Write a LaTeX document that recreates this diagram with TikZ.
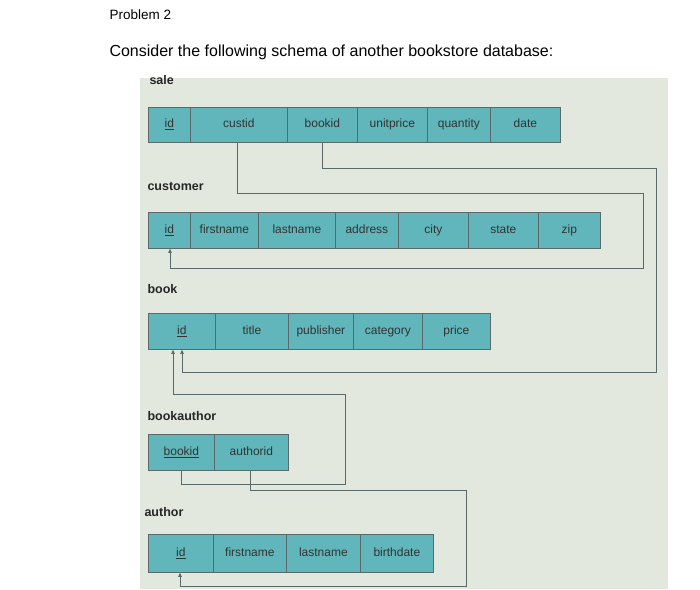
\documentclass[tikz,border=0pt]{standalone}
\usepackage{fontspec}
\setmainfont{Liberation Sans}
\usetikzlibrary{arrows.meta}
\definecolor{cellc}{RGB}{96,182,186}
\definecolor{panel}{RGB}{226,232,222}
\definecolor{linec}{RGB}{90,105,105}
\tikzset{
 cell/.style={draw=linec,fill=cellc,line width=0.8pt,inner sep=0pt,anchor=north west,font=\fontsize{12}{14}\selectfont,text=black!80,text height=9pt,text depth=3pt},
 tlabel/.style={anchor=west,font=\bfseries\fontsize{12.5}{15}\selectfont,text=black!85},
 conn/.style={draw=linec,line width=0.8pt},
 fk/.style={conn,-{Triangle[length=4pt,width=3.5pt]}}
}
\newcommand{\mkcell}[6]{\node[cell,minimum width=#3pt,minimum height=#4pt] (#1) at (#2) {#5#6};}
\begin{document}
\begin{tikzpicture}[x=1pt,y=-1pt]
\useasboundingbox (0,0) rectangle (700,589);
\fill[white] (0,0) rectangle (700,589);
\fill[panel] (140,78) rectangle (668,589);
\node[anchor=west,font=\fontsize{13.5}{16}\selectfont] (t1) at (106,15) {Problem 2};
\node[anchor=west,font=\fontsize{16}{19}\selectfont] (t2) at (106,52) {Consider the following schema of another bookstore database:};
\node[tlabel] (lsale) at (146,80) {sale};
\node[tlabel] (lcust) at (144,186) {customer};
\node[tlabel] (lbook) at (144,289) {book};
\node[tlabel] (lba) at (144,416) {bookauthor};
\node[tlabel] (lauth) at (141,512) {author};
% sale
\mkcell{s1}{148,107}{42}{35}{\underline{id}}{}
\mkcell{s2}{190,107}{97}{35}{custid}{}
\mkcell{s3}{287,107}{70}{35}{bookid}{}
\mkcell{s4}{357,107}{70}{35}{unitprice}{}
\mkcell{s5}{427,107}{63}{35}{quantity}{}
\mkcell{s6}{490,107}{70}{35}{date}{}
% customer
\mkcell{c1}{148,212}{42}{36}{\underline{id}}{}
\mkcell{c2}{190,212}{68}{36}{firstname}{}
\mkcell{c3}{258,212}{77}{36}{lastname}{}
\mkcell{c4}{335,212}{63}{36}{address}{}
\mkcell{c5}{398,212}{70}{36}{city}{}
\mkcell{c6}{468,212}{70}{36}{state}{}
\mkcell{c7}{538,212}{62}{36}{zip}{}
% book
\mkcell{b1}{148,313}{67}{36}{\underline{id}}{}
\mkcell{b2}{215,313}{73}{36}{title}{}
\mkcell{b3}{288,313}{65}{36}{publisher}{}
\mkcell{b4}{353,313}{69}{36}{category}{}
\mkcell{b5}{422,313}{68}{36}{price}{}
% bookauthor
\mkcell{ba1}{148,434}{66}{36}{\underline{bookid}}{}
\mkcell{ba2}{214,434}{74}{36}{authorid}{}
% author
\mkcell{a1}{148,534}{65}{38}{\underline{id}}{}
\mkcell{a2}{213,534}{73}{38}{firstname}{}
\mkcell{a3}{286,534}{74}{38}{lastname}{}
\mkcell{a4}{360,534}{73}{38}{birthdate}{}
% connectors
\coordinate (cu1) at (237,193); \coordinate (cu2) at (643,193);
\coordinate (cu3) at (643,268); \coordinate (cu4) at (170,268);
\draw[fk] (s2.south -| cu1) -- (cu1) -- (cu2) -- (cu3) -- (cu4) -- (c1.south -| cu4);
\coordinate (bk1) at (322,168); \coordinate (bk2) at (656,168);
\coordinate (bk3) at (656,372); \coordinate (bk4) at (182,372);
\draw[fk] (s3.south -| bk1) -- (bk1) -- (bk2) -- (bk3) -- (bk4) -- (b1.south -| bk4);
\coordinate (bb1) at (181,484); \coordinate (bb2) at (345,484);
\coordinate (bb3) at (345,394); \coordinate (bb4) at (173,394);
\draw[fk] (ba1.south -| bb1) -- (bb1) -- (bb2) -- (bb3) -- (bb4) -- (b1.south -| bb4);
\coordinate (ab1) at (250,490); \coordinate (ab2) at (466,490);
\coordinate (ab3) at (466,586); \coordinate (ab4) at (180,586);
\draw[fk] (ba2.south -| ab1) -- (ab1) -- (ab2) -- (ab3) -- (ab4) -- (a1.south -| ab4);
\end{tikzpicture}
\end{document}
